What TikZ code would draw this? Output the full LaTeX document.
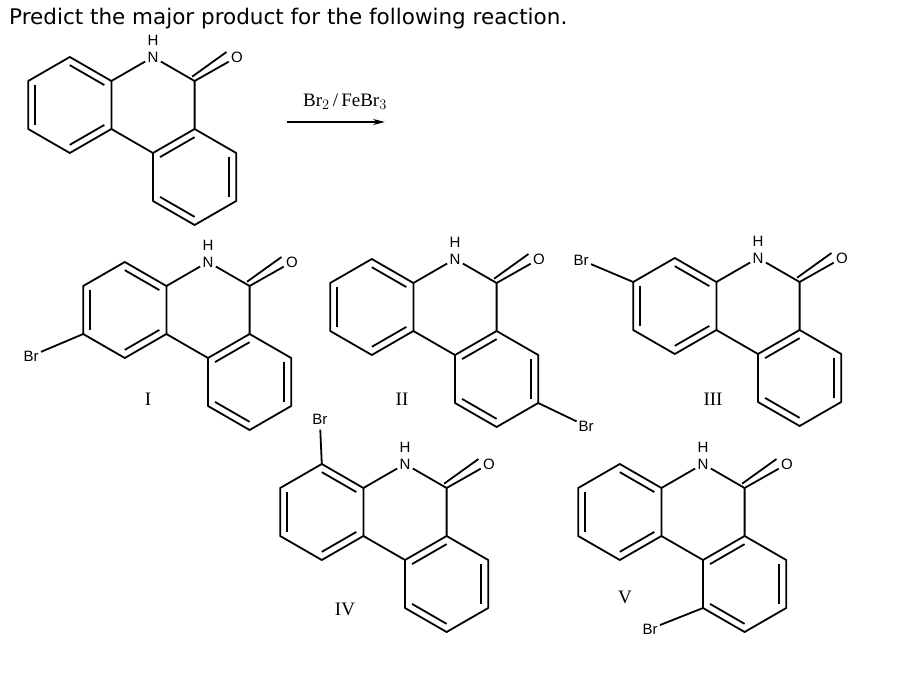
\documentclass[tikz,border=0pt]{standalone}
\usepackage{fontspec}
\setmainfont{Liberation Serif}
\newfontfamily\atomfont{Liberation Sans}
\newfontfamily\titlefont{DejaVu Sans}
\usetikzlibrary{calc,arrows.meta}
\tikzset{
 bond/.style={line width=1.8pt},
 atom/.style={font=\atomfont\fontsize{15}{15}\selectfont, inner sep=1pt, circle},
 roman/.style={font=\fontsize{19}{19}\selectfont},
}
\newcommand\dbl[3]{\draw[bond] ($(#1)!0.17!(#3)$) -- ($(#2)!0.17!(#3)$);}
\newcommand\phen[2]{%
\begin{scope}[shift={#2}]
 \node[atom] (#1N) at (0,0) {N};
 \node[atom] (#1H) at (0,-17) {H};
 \node[atom] (#1O) at (84,0) {O};
 \coordinate (#1a) at (41.6,24);
 \coordinate (#1b) at (41.6,72);
 \coordinate (#1c) at (0,96);
 \coordinate (#1d) at (-41.6,72);
 \coordinate (#1e) at (-41.6,24);
 \coordinate (#1l1) at (-83.2,0);
 \coordinate (#1l2) at (-124.8,24);
 \coordinate (#1l3) at (-124.8,72);
 \coordinate (#1l4) at (-83.2,96);
 \coordinate (#1lc) at (-83.2,48);
 \coordinate (#1r1) at (83.2,96);
 \coordinate (#1r2) at (83.2,144);
 \coordinate (#1r3) at (41.6,168);
 \coordinate (#1r4) at (0,144);
 \coordinate (#1rc) at (41.6,120);
\end{scope}
 \draw[bond] (#1e) -- (#1N);
 \draw[bond] (#1N) -- (#1a);
 \draw[bond,line join=round] (#1a) -- (#1b) -- (#1c) -- (#1d) -- (#1e) -- (#1l1) -- (#1l2) -- (#1l3) -- (#1l4) -- (#1d);
 \draw[bond,line join=round] (#1b) -- (#1r1) -- (#1r2) -- (#1r3) -- (#1r4) -- (#1c);
 \draw[bond] (#1a) -- (#1O);
 \draw[bond] ($(#1a)+(-2.5,-4.3)$) -- ($(#1O.west)+(-1,-5)$);
 \dbl{#1l1}{#1e}{#1lc}
 \dbl{#1l2}{#1l3}{#1lc}
 \dbl{#1l4}{#1d}{#1lc}
 \dbl{#1b}{#1c}{#1rc}
 \dbl{#1r1}{#1r2}{#1rc}
 \dbl{#1r3}{#1r4}{#1rc}
}
\begin{document}
\begin{tikzpicture}[x=1pt,y=-1pt]
\useasboundingbox (0,0) rectangle (906,698);
\node[anchor=west, inner sep=0pt, font=\titlefont\fontsize{21.5}{21.5}\selectfont] (title) at (9,19) {Predict the major product for the following reaction.};
\phen{T}{(153,57)}
\coordinate (arrS) at (287,122);
\coordinate (arrE) at (385,122);
\draw[line width=1.5pt, -{Stealth[length=12pt,width=6pt]}] (arrS) -- (arrE);
\node[font=\fontsize{19}{19}\selectfont] (reag) at (345,102) {Br$_2$\,/\,FeBr$_3$};
% I
\phen{A}{(208,262)}
\node[atom] (ABr) at ($(Al3)+(-52,22)$) {Br};
\draw[bond] (Al3) -- (ABr);
\node[roman] (AL) at (148,399) {I};
% II
\phen{B}{(455,259)}
\node[atom] (BBr) at ($(Br2)+(48,23)$) {Br};
\draw[bond] (Br2) -- (BBr);
\node[roman] (BL) at (402,399) {II};
% III
\phen{C}{(758,258)}
\node[atom] (CBr) at ($(Cl2)+(-52,-22)$) {Br};
\draw[bond] (Cl2) -- (CBr);
\node[roman] (CL) at (713,399) {III};
% IV
\phen{D}{(405,464)}
\node[atom] (DBr) at ($(Dl1)+(-2,-45)$) {Br};
\draw[bond] (Dl1) -- (DBr);
\node[roman] (DL) at (345,609) {IV};
% V
\phen{E}{(703,464)}
\node[atom] (EBr) at ($(Er4)+(-53,21)$) {Br};
\draw[bond] (Er4) -- (EBr);
\node[roman] (EL) at (625,597) {V};
\end{tikzpicture}
\end{document}
